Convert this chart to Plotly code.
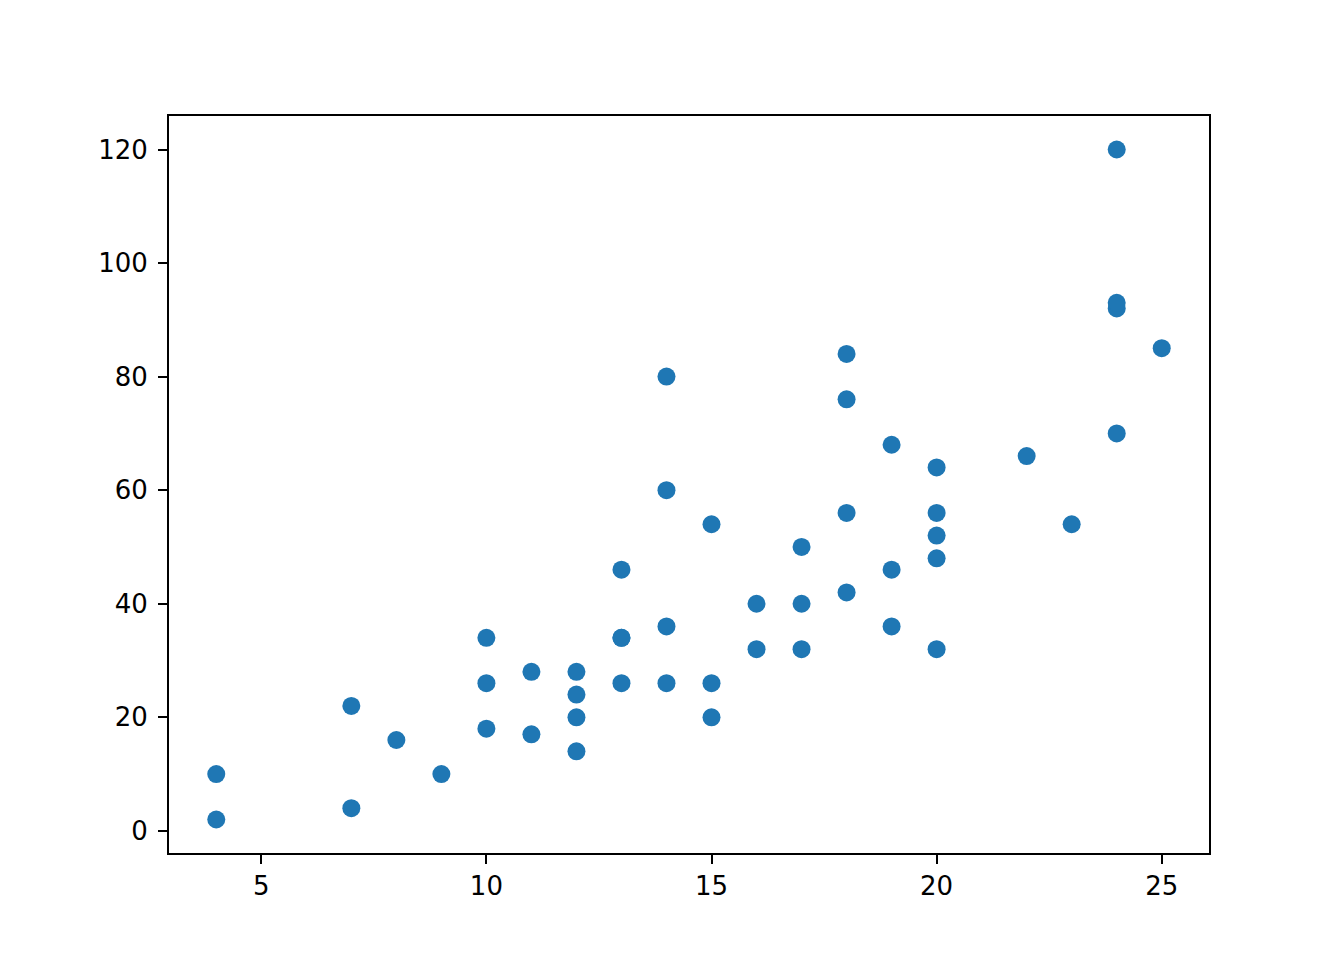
import plotly.graph_objects as go

speed = [4, 4, 7, 7, 8, 9, 10, 10, 10, 11, 11, 12, 12, 12, 12, 13, 13, 13, 13,
         14, 14, 14, 14, 15, 15, 15, 16, 16, 17, 17, 17, 18, 18, 18, 18, 19, 19,
         19, 20, 20, 20, 20, 20, 22, 23, 24, 24, 24, 24, 25]
dist = [2, 10, 4, 22, 16, 10, 18, 26, 34, 17, 28, 14, 20, 24, 28, 26, 34, 34, 46,
        26, 36, 60, 80, 20, 26, 54, 32, 40, 32, 40, 50, 42, 56, 76, 84, 36, 46,
        68, 32, 48, 52, 56, 64, 66, 54, 70, 92, 93, 120, 85]

x_ticks = [5, 10, 15, 20, 25]
y_ticks = [0, 20, 40, 60, 80, 100, 120]

fig = go.Figure()
fig.add_trace(go.Scatter(x=speed, y=dist, mode="markers",
                         marker=dict(color="#1f77b4", size=18, line=dict(width=0))))

axis_style = dict(showgrid=False, zeroline=False, showline=True, mirror=True,
                  linecolor="black", linewidth=2, ticks="outside", ticklen=9,
                  tickwidth=2, tickcolor="black",
                  tickfont=dict(family="DejaVu Sans", size=26, color="black"))

fig.update_xaxes(range=[2.95, 26.05], tickvals=x_ticks, **axis_style)
fig.update_yaxes(range=[-3.9, 125.9], tickvals=y_ticks, ticklabelstandoff=5,
                 **axis_style)

# page body adds ~8px offset, so the figure is drawn a bit smaller than the window
fig.update_layout(width=1328, height=944, plot_bgcolor="white", paper_bgcolor="white",
                  margin=dict(l=161, r=127, t=108, b=99), showlegend=False)

fig.write_html("out.html")
